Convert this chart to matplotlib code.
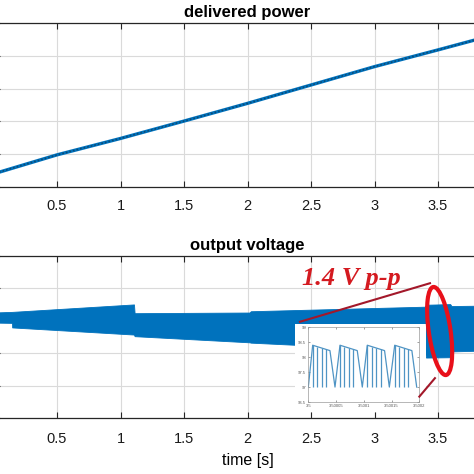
import matplotlib
matplotlib.use('Agg')
import matplotlib.pyplot as plt
import numpy as np
from matplotlib.patches import Ellipse, Rectangle

plt.rcParams['font.family'] = ['Liberation Sans', 'DejaVu Sans']

# delivered power (y labels are cropped away in the reference)
power_t = [0.0, 0.5, 1.0, 1.5, 2.0, 2.5, 3.0, 3.5, 4.0]
power_v = [0.40, 0.98, 1.48, 2.01, 2.55, 3.11, 3.67, 4.18, 4.70]

# output voltage band (upper / lower envelope)
volt_t = [0.0, 0.15, 0.151, 1.11, 1.115, 2.02, 2.03, 3.40, 3.41, 3.60, 3.61, 4.0]
volt_hi = [98.24, 98.26, 98.26, 98.49, 98.22, 98.24, 98.28, 98.42, 98.48, 98.50, 98.44, 98.46]
volt_lo = [97.93, 97.92, 97.78, 97.56, 97.51, 97.32, 97.31, 97.05, 96.85, 96.86, 97.04, 97.08]

# zoomed inset, time offset from 3.5 s in microseconds
saw_us = [0, 7.9, 39.0, 48.1, 57.1, 88.2, 97.3, 106.3, 137.4, 146.0, 155.7, 186.6, 195.3]
saw_v = [97.0, 98.4, 98.22, 97.0, 98.4, 98.22, 97.0, 98.4, 98.22, 97.0, 98.4, 98.22, 97.0]
spike_us = [7.9, 15.9, 23.9, 31.9, 57.1, 65.1, 73.1, 81.1,
            106.3, 114.3, 122.3, 130.3, 155.7, 163.7, 171.7, 179.7]
spike_top = [98.4, 98.35, 98.31, 98.26] * 4

# 0 and 4 fall outside the cropped picture
xticks = [0, 0.5, 1, 1.5, 2, 2.5, 3, 3.5, 4]
xticklabels = ['', '0.5', '1', '1.5', '2', '2.5', '3', '3.5', '']
inset_xticks = [3.5, 3.50005, 3.5001, 3.50015, 3.5002]
inset_xlabels = ['3.5', '3.50005', '3.5001', '3.50015', '3.5002']
inset_yticks = [96.5, 97, 97.5, 98, 98.5, 99]
inset_ylabels = ['96.5', '97', '97.5', '98', '98.5', '99']

blue = '#0072BD'
W = 474.0


def px(x0, y0, x1, y1):
    # pixel box (top-left origin) -> figure fraction rect
    return [x0 / W, 1 - y1 / W, (x1 - x0) / W, (y1 - y0) / W]


def style(ax):
    ax.set_xlim(0, 4)
    ax.set_xticks(xticks)
    ax.set_xticklabels(xticklabels)
    ax.grid(True, color='#dadada', lw=0.8)
    ax.set_axisbelow(True)
    ax.tick_params(direction='in', length=4, width=0.8, top=True, right=True,
                   labelsize=10.5, pad=10, colors='#262626', labelleft=False)
    ax.tick_params(axis='x', labelcolor='#1a1a1a')
    for s in ax.spines.values():
        s.set_color('#262626')
        s.set_linewidth(0.9)


fig = plt.figure(figsize=(4.74, 4.74), dpi=100)

ax1 = fig.add_axes(px(-6.5, 23, 501.5, 187))
style(ax1)
ax1.set_ylim(0, 5)
ax1.set_yticks([0, 1, 2, 3, 4, 5])
ax1.tick_params(pad=9)
ax1.plot(power_t, power_v, color=blue, lw=2.4)
ax1.plot(power_t, power_v, color='#0b4a75', lw=1.2, ls=(0, (1, 1.2)))
ax1.set_title('delivered power', fontsize=12, fontweight='bold', pad=4)

ax2 = fig.add_axes(px(-6.5, 256, 501.5, 418))
style(ax2)
ax2.set_ylim(95, 100)
ax2.set_yticks([95, 96, 97, 98, 99, 100])
ax2.fill_between(volt_t, volt_lo, volt_hi, color=blue, lw=0.6, edgecolor=blue)
ax2.set_title('output voltage', fontsize=12, fontweight='bold', pad=4)
ax2.set_xlabel('time [s]', fontsize=11.5, labelpad=5)

# white backing box of the inset
ax2.add_patch(Rectangle((295 / W, 1 - 412 / W), 131 / W, 88 / W,
                        transform=fig.transFigure, facecolor='white',
                        edgecolor='none', zorder=5, clip_on=False))

axi = fig.add_axes(px(308.3, 327.3, 419.3, 402))
axi.set_zorder(1)
axi.plot([3.5 + u * 1e-6 for u in saw_us], saw_v, color='#4f94c4', lw=0.9)
axi.vlines([3.5 + u * 1e-6 for u in spike_us], 97.0, spike_top,
           color='#4f94c4', lw=0.9)
axi.set_xlim(3.5, 3.5002)
axi.set_ylim(96.5, 99)
axi.set_xticks(inset_xticks)
axi.set_xticklabels(inset_xlabels)
axi.set_yticks(inset_yticks)
axi.set_yticklabels(inset_ylabels)
axi.tick_params(direction='in', length=1.5, width=0.4, labelsize=3, pad=1.5,
                colors='#555555', top=True, right=True)
for s in axi.spines.values():
    s.set_color('#9a9a9a')
    s.set_linewidth(0.5)

# red annotation, on a transparent overlay so it sits above the inset
ov = fig.add_axes(ax2.get_position(), sharex=ax2, sharey=ax2)
ov.set_zorder(2)
ov.patch.set_visible(False)
ov.axis('off')
ov.text(2.427, 99.105, '1.4 V p-p', color='#d41a20', fontsize=19,
        fontweight='bold', fontstyle='italic', family='Liberation Serif',
        ha='left', va='baseline')
ov.plot([2.413, 3.437], [97.97, 99.16], color='#a3182a', lw=1.5, clip_on=False)
ov.plot([3.353, 3.476], [95.66, 96.23], color='#a3182a', lw=1.5, clip_on=False)
ov.add_patch(Ellipse((3.513, 97.685), 0.173, 2.72, angle=2, fill=False,
                     edgecolor='#e8101a', lw=3, clip_on=False))

fig.savefig('out.png', dpi=100)
